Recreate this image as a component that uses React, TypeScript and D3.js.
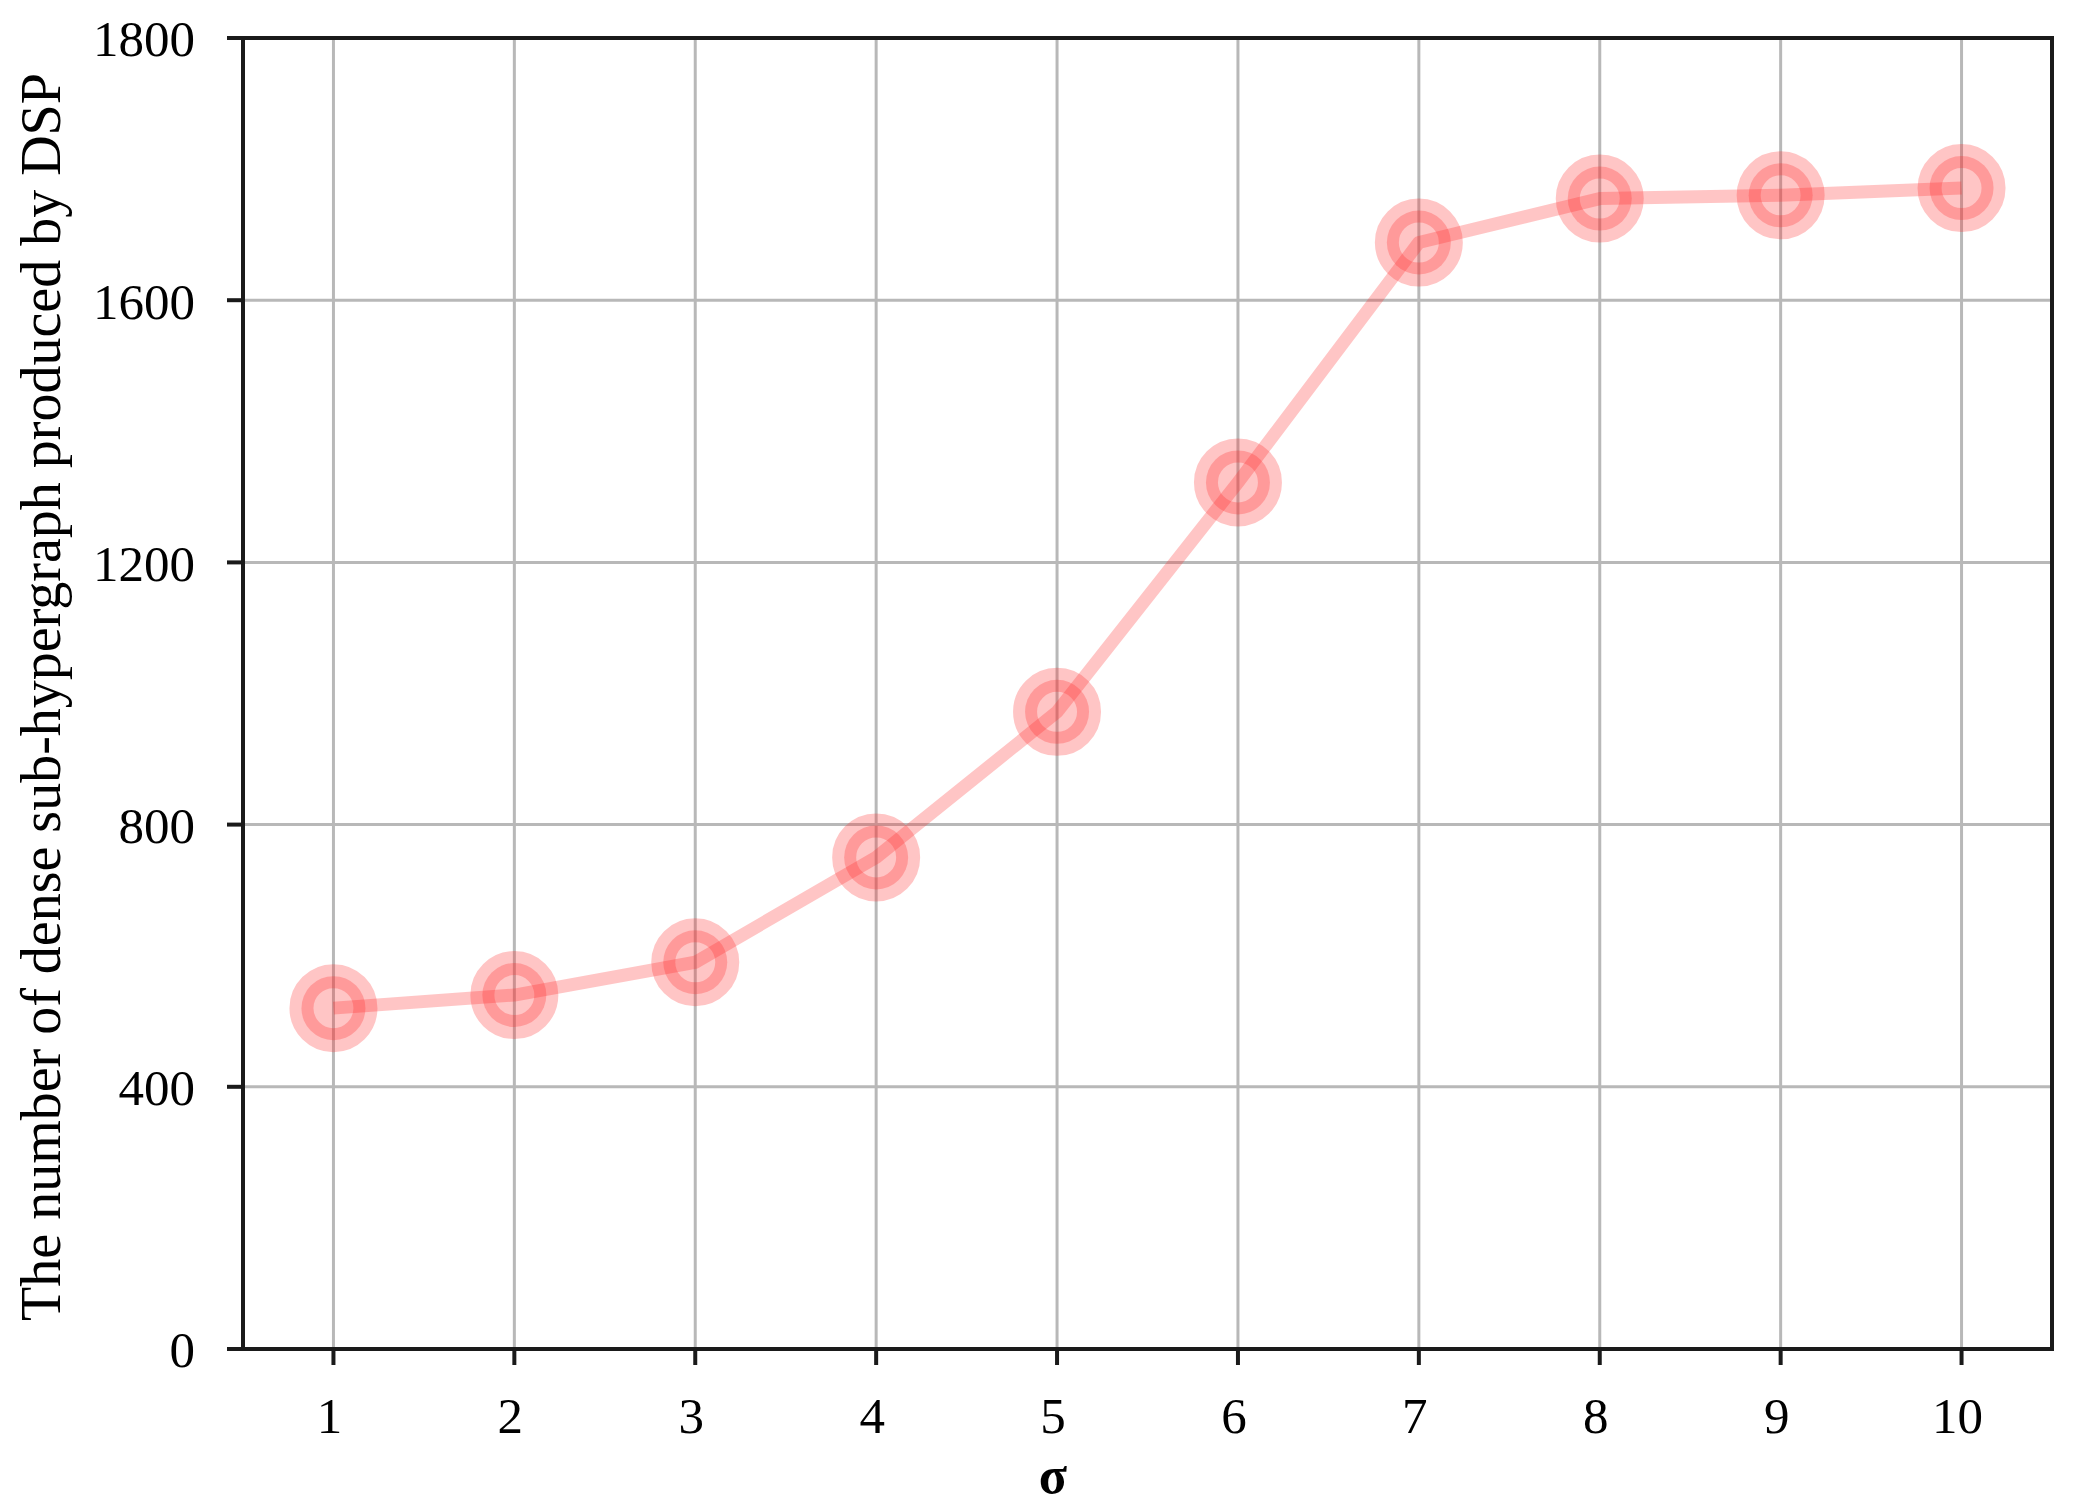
import React from 'react';
import * as d3 from 'd3';

// sigma values on the x axis
const sigmaValues = [1, 2, 3, 4, 5, 6, 7, 8, 9, 10];
// number of dense sub-hypergraphs produced by DSP
const denseCounts = [520, 540, 590, 750, 972, 1322, 1688, 1755, 1760, 1771];
// y ticks, the top label reads 1800 in the source figure
const yTickValues = [0, 400, 800, 1200, 1600, 2000];
const yTickLabels = ['0', '400', '800', '1200', '1600', '1800'];

const width = 2084;
const height = 1511;
const plot = { left: 243, right: 2052, top: 38, bottom: 1349 };
const serif = '"Liberation Serif", "Times New Roman", serif';
const markColor = 'rgb(255, 40, 40)';
const markAlpha = 0.27;

const App = () => {
  const x = d3.scaleLinear().domain([0.5, 10.5]).range([plot.left, plot.right]);
  const y = d3.scaleLinear().domain([0, 2000]).range([plot.bottom, plot.top]);

  const points = sigmaValues.map((s, i) => [x(s), y(denseCounts[i])] as [number, number]);
  const line = d3.line()(points) || '';

  return (
    <svg width={width} height={height} style={{ position: 'absolute', left: 0, top: 0, background: '#fff' }}>
      {/* grid */}
      <g stroke="#b8b8b8" strokeWidth={3}>
        {sigmaValues.map(s => (
          <line key={'gx' + s} x1={x(s)} x2={x(s)} y1={plot.top} y2={plot.bottom} />
        ))}
        {yTickValues.slice(1, -1).map(v => (
          <line key={'gy' + v} x1={plot.left} x2={plot.right} y1={y(v)} y2={y(v)} />
        ))}
      </g>

      {/* series */}
      <path d={line} fill="none" stroke={markColor} strokeOpacity={markAlpha} strokeWidth={13} strokeLinejoin="round" />
      {points.map(([px, py], i) => (
        <circle key={'m' + i} cx={px} cy={py} r={32}
          fill={markColor} fillOpacity={markAlpha}
          stroke={markColor} strokeOpacity={markAlpha} strokeWidth={24} />
      ))}

      {/* frame */}
      <rect x={plot.left} y={plot.top} width={plot.right - plot.left} height={plot.bottom - plot.top}
        fill="none" stroke="#1a1a1a" strokeWidth={4} />

      {/* y axis */}
      <g fontFamily={serif} fontSize={51} fill="#000">
        {yTickValues.map((v, i) => (
          <g key={'yt' + v}>
            <line x1={plot.left - 16} x2={plot.left} y1={y(v)} y2={y(v)} stroke="#1a1a1a" strokeWidth={4} />
            <text x={195} y={y(v)} dy="0.36em" textAnchor="end">{yTickLabels[i]}</text>
          </g>
        ))}
      </g>

      {/* x axis */}
      <g fontFamily={serif} fontSize={51} fill="#000">
        {sigmaValues.map(s => (
          <g key={'xt' + s}>
            <line x1={x(s)} x2={x(s)} y1={plot.bottom} y2={plot.bottom + 16} stroke="#1a1a1a" strokeWidth={4} />
            <text x={x(s) - 4} y={1433} textAnchor="middle">{s}</text>
          </g>
        ))}
      </g>

      {/* axis titles */}
      <text x={1053} y={1493} textAnchor="middle" fontFamily={serif} fontSize={52} fontWeight="bold">σ</text>
      <text transform="translate(60, 697) rotate(-90)" textAnchor="middle" fontFamily={serif} fontSize={56}>
        The number of dense sub-hypergraph produced by DSP
      </text>
    </svg>
  );
};

export default App;
